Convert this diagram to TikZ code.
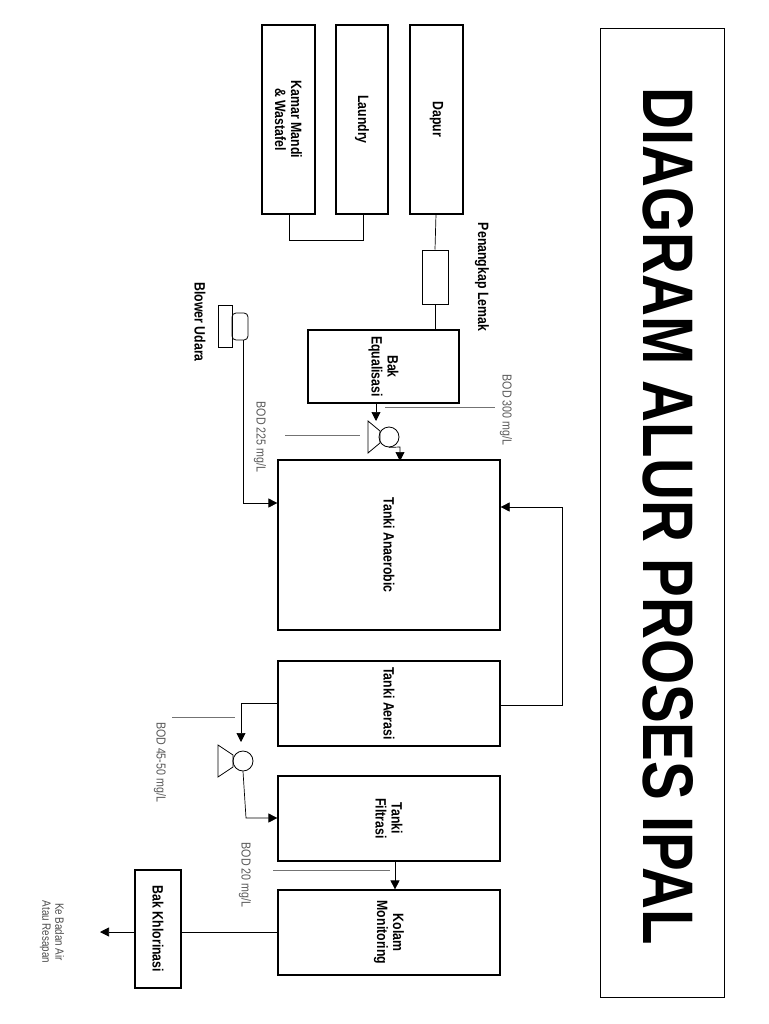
\documentclass[tikz,border=0pt]{standalone}
\usepackage{fontspec}
\setmainfont{Liberation Sans}[FakeStretch=0.82]
\usetikzlibrary{arrows.meta}
\begin{document}
\begin{tikzpicture}[x=1pt,y=-1pt,
  box/.style={draw,line width=1.2pt},
  lbl/.style={rotate=-90,font=\fontsize{15}{16}\selectfont\bfseries,align=center},
  bod/.style={rotate=-90,font=\fontsize{13}{14}\selectfont,text=black!65},
  pipe/.style={draw,line width=0.7pt},
  arr/.style={pipe,-{Triangle[length=9pt,width=9pt]}},
  thin/.style={draw,black!55,line width=0.6pt}]
\useasboundingbox (0,0) rectangle (768,1024);
% title
\draw[line width=0.8pt] (600,28) rectangle (724,997);
\node[rotate=-90] (title) at (668,516) {\resizebox{857pt}{50pt}{\bfseries DIAGRAM ALUR PROSES IPAL}};
% sources
\node[box,minimum width=53pt,minimum height=189pt] (dapur) at (436.5,119.5) {};
\node[lbl] at (dapur) {Dapur};
\node[box,minimum width=52pt,minimum height=189pt] (laundry) at (362,119.5) {};
\node[lbl] at (laundry) {Laundry};
\node[box,minimum width=53pt,minimum height=189pt] (kamar) at (288.5,119.5) {};
\node[lbl] at (kamar) {Kamar Mandi\\\& Wastafel};
\draw[pipe] (289,214) -- (289,240) -- (363,240) -- (363,214);
% grease trap
\node[box,minimum width=26pt,minimum height=54pt,line width=1pt] (trap) at (435,277) {};
\node[lbl] at (482,277) {Penangkap Lemak};
\draw[pipe] (436,214) -- (trap.north);
% equalisasi
\node[box,minimum width=151pt,minimum height=73pt] (equal) at (383.5,366.5) {};
\node[lbl] at (equal) {Bak\\Equalisasi};
\draw[pipe] (trap.south) -- (435,330);
% pump 1
\coordinate (p1a) at (376,403);
\draw[arr] (p1a) -- (376,421);
\node[draw,circle,minimum size=20pt,inner sep=0pt,line width=0.8pt] (pump1) at (389,437) {};
\draw[line width=0.8pt] (368,421) -- (368,453) -- (380,443) -- (380,431) -- cycle;
\draw[arr] (pump1.south) -- (400,447) -- (400,461);
\draw[thin] (385,407) -- (495,407);
\node[bod] at (506,410) {BOD 300 mg/L};
\draw[thin] (285,435) -- (360,435);
\node[bod] at (260,437) {BOD 225 mg/L};
% blower
\draw[line width=0.8pt] (218,305) rectangle (232,347);
\draw[line width=0.8pt,rounded corners=4pt] (232,313) rectangle (248,340);
\node[lbl] (blowerl) at (200,322) {Blower Udara};
\coordinate (bl) at (243,340);
% anaerobic
\node[box,minimum width=222pt,minimum height=170pt] (anaer) at (389,545) {};
\node[lbl] at (anaer) {Tanki Anaerobic};
\draw[arr] (bl) -- (243,503) -- (anaer.west |- 0,503);
% aerasi
\node[box,minimum width=222pt,minimum height=85pt] (aer) at (389,703.5) {};
\node[lbl] at (aer) {Tanki Aerasi};
\draw[arr] (aer.east |- 0,705) -- (562,705) -- (562,507) -- (anaer.east |- 0,507);
% pump 2
\draw[arr] (aer.west |- 0,703) -- (241,703) -- (241,742);
\node[draw,circle,minimum size=20pt,inner sep=0pt,line width=0.8pt] (pump2) at (243,761) {};
\draw[line width=0.8pt] (218,745) -- (218,777) -- (233,767) -- (233,755) -- cycle;
\draw[thin] (172,717) -- (235,717);
\node[bod] at (160,762) {BOD 45-50 mg/L};
% filtrasi
\node[box,minimum width=222pt,minimum height=85pt] (filt) at (389,818.5) {};
\node[lbl] at (filt) {Tanki\\Filtrasi};
\draw[arr] (pump2.south) -- (246,818) -- (filt.west |- 0,818);
\draw[thin] (273,870) -- (390,870);
\node[bod] at (245,875) {BOD 20 mg/L};
% monitoring
\node[box,minimum width=222pt,minimum height=85pt] (kolam) at (389,932.5) {};
\node[lbl] at (kolam) {Kolam\\Monitoring};
\draw[arr] (filt.south -| 395,0) -- (kolam.north -| 395,0);
% chlorination
\node[box,minimum width=46pt,minimum height=118pt] (khlor) at (158,929) {};
\node[lbl] at (khlor) {Bak Khlorinasi};
\draw[pipe] (kolam.west |- 0,932) -- (khlor.east |- 0,932);
\coordinate (out) at (100,932);
\draw[arr] (khlor.west |- 0,932) -- (out);
\node[rotate=-90,align=center,font=\fontsize{12}{13}\selectfont,text=black!70] (dest) at (52,932) {Ke Badan Air\\Atau Resapan};
\end{tikzpicture}
\end{document}
